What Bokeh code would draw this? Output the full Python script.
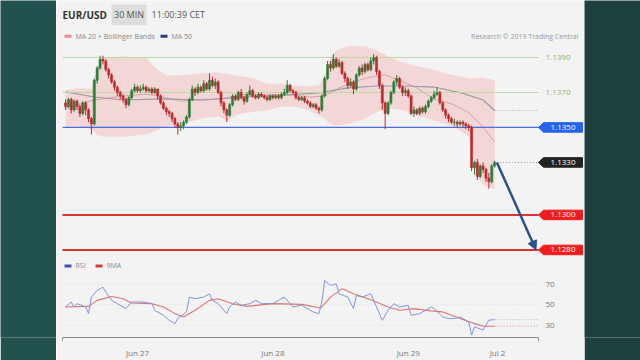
from bokeh.plotting import figure
from bokeh.layouts import row
from bokeh.models import Range1d, FixedTicker, Arrow, NormalHead
from bokeh.embed import file_html
from bokeh.resources import INLINE
from bokeh.core.properties import value

# ---------------- data (EUR/USD 30 min) ----------------
first_open = 1.1364
close = [1.1362,1.1366,1.1360,1.1365,1.1362,1.1358,1.1364,1.1360,1.1355,1.1352,
         1.1377,1.1384,1.1389,1.1388,1.1383,1.1380,1.1376,1.1373,1.1370,1.1368,
         1.1366,1.1363,1.1367,1.1371,1.1373,1.1371,1.1372,1.1373,1.1371,1.1372,
         1.1370,1.1372,1.1368,1.1364,1.1361,1.1359,1.1358,1.1355,1.1352,1.1350,
         1.1351,1.1353,1.1356,1.1366,1.1372,1.1370,1.1373,1.1371,1.1375,1.1372,
         1.1377,1.1374,1.1376,1.1370,1.1364,1.1360,1.1357,1.1363,1.1368,1.1366,
         1.1370,1.1367,1.1365,1.1369,1.1371,1.1368,1.1367,1.1369,1.1368,1.1367,
         1.1366,1.1368,1.1367,1.1368,1.1367,1.1369,1.1370,1.1374,1.1371,1.1370,
         1.1367,1.1366,1.1367,1.1365,1.1364,1.1362,1.1363,1.1361,1.1360,1.1368,
         1.1378,1.1386,1.1384,1.1389,1.1385,1.1387,1.1381,1.1378,1.1374,1.1376,
         1.1372,1.1380,1.1384,1.1382,1.1386,1.1383,1.1388,1.1390,1.1382,1.1374,
         1.1364,1.1358,1.1364,1.1370,1.1376,1.1378,1.1373,1.1370,1.1371,1.1368,
         1.1358,1.1360,1.1358,1.1361,1.1359,1.1362,1.1365,1.1367,1.1369,1.1370,
         1.1364,1.1360,1.1357,1.1355,1.1353,1.1353,1.1352,1.1353,1.1352,1.1351,
         1.1350,1.1327,1.1330,1.1322,1.1328,1.1326,1.1321,1.1319,1.1328,1.1330]
high = [1.1366,1.1367,1.1367,1.1366,1.1366,1.1363,1.1365,1.1365,1.1361,1.1356,
        1.1378,1.1385,1.1391,1.1391,1.1389,1.1384,1.1381,1.1377,1.1374,1.1371,
        1.1369,1.1367,1.1368,1.1372,1.1375,1.1374,1.1374,1.1375,1.1374,1.1373,
        1.1373,1.1373,1.1372,1.1369,1.1365,1.1362,1.1360,1.1359,1.1356,1.1353,
        1.1353,1.1354,1.1357,1.1367,1.1374,1.1373,1.1375,1.1374,1.1377,1.1376,
        1.1381,1.1379,1.1378,1.1377,1.1371,1.1365,1.1361,1.1364,1.1369,1.1369,
        1.1371,1.1372,1.1368,1.1370,1.1374,1.1372,1.1369,1.1370,1.1370,1.1369,
        1.1368,1.1369,1.1369,1.1369,1.1369,1.1370,1.1372,1.1377,1.1375,1.1372,
        1.1371,1.1368,1.1368,1.1368,1.1366,1.1365,1.1364,1.1364,1.1362,1.1369,
        1.1379,1.1388,1.1388,1.1392,1.1390,1.1389,1.1388,1.1382,1.1379,1.1378,
        1.1377,1.1381,1.1385,1.1386,1.1387,1.1387,1.1390,1.1392,1.1391,1.1383,
        1.1375,1.1365,1.1365,1.1371,1.1377,1.1380,1.1379,1.1374,1.1373,1.1372,
        1.1369,1.1362,1.1361,1.1362,1.1362,1.1363,1.1366,1.1368,1.1371,1.1373,
        1.1371,1.1365,1.1361,1.1358,1.1356,1.1355,1.1354,1.1354,1.1354,1.1353,
        1.1352,1.1351,1.1331,1.1332,1.1329,1.1330,1.1327,1.1324,1.1329,1.1331]
low = [1.1360,1.1361,1.1358,1.1359,1.1360,1.1356,1.1357,1.1357,1.1353,1.1346,
       1.1351,1.1375,1.1383,1.1386,1.1382,1.1378,1.1375,1.1371,1.1368,1.1366,
       1.1364,1.1361,1.1362,1.1366,1.1370,1.1370,1.1370,1.1371,1.1370,1.1370,
       1.1369,1.1369,1.1366,1.1363,1.1360,1.1357,1.1356,1.1353,1.1350,1.1346,
       1.1348,1.1349,1.1352,1.1355,1.1365,1.1368,1.1369,1.1370,1.1370,1.1371,
       1.1371,1.1373,1.1372,1.1369,1.1362,1.1358,1.1353,1.1356,1.1362,1.1365,
       1.1365,1.1366,1.1363,1.1364,1.1368,1.1367,1.1366,1.1366,1.1367,1.1366,
       1.1365,1.1365,1.1366,1.1366,1.1366,1.1366,1.1368,1.1369,1.1370,1.1369,
       1.1366,1.1365,1.1365,1.1364,1.1363,1.1361,1.1361,1.1360,1.1358,1.1359,
       1.1367,1.1377,1.1382,1.1383,1.1384,1.1384,1.1380,1.1376,1.1372,1.1373,
       1.1369,1.1371,1.1379,1.1380,1.1381,1.1382,1.1382,1.1386,1.1380,1.1372,
       1.1360,1.1349,1.1357,1.1363,1.1369,1.1374,1.1372,1.1368,1.1368,1.1367,
       1.1357,1.1356,1.1357,1.1357,1.1358,1.1358,1.1361,1.1364,1.1366,1.1368,
       1.1363,1.1359,1.1355,1.1353,1.1352,1.1351,1.1350,1.1351,1.1350,1.1349,
       1.1348,1.1325,1.1323,1.1320,1.1321,1.1324,1.1319,1.1315,1.1318,1.1327]

band_idx = [0,5,9,11,13,20,28,32,35,40,48,53,56,60,65,70,75,80,84,88,
            90,92,94,98,104,108,112,117,122,128,134,139,140,141,142,143,145,149]
band_upper = [1.13714,1.13726,1.13720,1.13840,1.13896,1.13907,1.13896,1.13828,1.13799,1.13799,
              1.13811,1.13816,1.13805,1.13794,1.13782,1.13750,1.13750,1.13740,1.13735,1.13740,
              1.13800,1.13900,1.13940,1.13964,1.13964,1.13941,1.13907,1.13873,1.13851,1.13828,
              1.13800,1.13785,1.13783,1.13780,1.13780,1.13782,1.13785,1.13770]
band_lower = [1.13504,1.13504,1.13490,1.13460,1.13447,1.13447,1.13459,1.13487,1.13504,1.13515,
              1.13555,1.13561,1.13540,1.13575,1.13589,1.13595,1.13620,1.13620,1.13600,1.13570,
              1.13550,1.13520,1.13510,1.13520,1.13550,1.13589,1.13610,1.13600,1.13570,1.13540,
              1.13510,1.13460,1.13450,1.13400,1.13300,1.13220,1.13170,1.13150]

ma20_idx = [0,10,20,28,35,40,48,55,62,70,78,85,90,95,100,105,111,117,122,128,134,140,145,149]
ma20 = [1.13612,1.13657,1.13680,1.13691,1.13670,1.13650,1.13660,1.13665,1.13688,1.13685,
        1.13686,1.13674,1.13680,1.13725,1.13760,1.13785,1.13800,1.13762,1.13726,1.13663,
        1.13635,1.13585,1.13502,1.13418]
ma50_idx = [0,10,20,34,48,62,77,88,98,108,118,128,138,145,149]
ma50 = [1.13703,1.13674,1.13657,1.13663,1.13657,1.13674,1.13686,1.13697,1.13726,1.13737,
        1.13737,1.13731,1.13695,1.13657,1.13597]

rsi_idx = [0,2,3,4,7,8,9,11,13,14,16,18,20,21,23,27,30,31,34,36,
           38,39,42,43,45,48,50,51,53,56,57,59,61,64,66,68,72,76,79,82,
           86,88,89,90,92,94,95,98,100,101,103,106,108,110,112,114,116,119,120,123,
           127,128,131,133,135,137,140,141,142,145,147,149]
rsi = [47.8,52.6,47.8,51,47.8,41.3,57.4,63.8,67,62.2,54.2,51,47.8,46.2,52.6,52.6,51,44.6,39.7,34.8,
       31.6,36.5,42.9,57.4,55.8,57.4,60.6,54.2,51,41.3,47.8,52.6,49.4,51,54.2,51,51,57.4,47.8,49.4,
       42.9,41.3,52.6,73.5,68.7,70.3,60.6,57.4,46.2,59,57.4,60.6,47.8,34.8,44.6,51,47.8,49.4,39.7,41.3,
       47.8,46.2,38.1,36.5,36.5,38.1,33.3,20.4,28.5,25.3,35,35.5]
sma_idx = [0,8,11,16,20,23,30,34,38,41,45,50,53,58,63,72,82,88,89,92,
           96,100,106,112,116,121,127,131,137,142,145,149]
sma9 = [47.8,48.4,54.2,58,55.8,51.6,51,47.8,41.3,38.1,44.6,54.2,55.8,51,48.4,51,50.3,47.1,47.8,57.4,
        65.4,60.6,54.8,47.8,44.6,46.2,44,43,36.5,31.6,29,29]

resistance_levels = [1.1390, 1.1370]
pivot_level = 1.1350
support_levels = [1.1300, 1.1280]
rsi_levels = [70, 50, 30]
day_ticks = [25, 72, 119, 150]
day_labels = ["Jun 27", "Jun 28", "Jun 29", "Jul 2"]

# ---------------- layout helpers (page pixels -> data) ----------------
FONT = value("Open Sans")
PANEL = "#f3f3f3"
def xi(px):  # page x pixel -> candle index coordinate
    return (px - 65) / 2.88
def yp(py):  # page y pixel -> price
    return 1.1390 - (py - 57.3) / 1.76 * 0.0001
def yr(py):  # page y pixel -> RSI value
    return 50 - (py - 306) / 1.035

n = len(close)
idx = list(range(n))
opens = [first_open] + close[:-1]
UP, DN = "#2a7f38", "#bd2a2e"
colors = [UP if c >= o else DN for o, c in zip(opens, close)]
tops = [max(o, c) for o, c in zip(opens, close)]
bots = [min(o, c) for o, c in zip(opens, close)]

p = figure(width=528, height=360, x_range=Range1d(xi(56), xi(584)),
           y_range=Range1d(yp(339), yp(0)), toolbar_location=None,
           output_backend="svg", y_axis_location=None, min_border=0,
           min_border_left=0, min_border_right=0, min_border_top=0, min_border_bottom=21,
           background_fill_color=PANEL, border_fill_color=PANEL, outline_line_color=None)
p.extra_y_ranges = {"rsi": Range1d(yr(339), yr(0))}
p.grid.visible = False

# header
p.quad(left=[xi(111)], right=[xi(146)], top=[yp(4)], bottom=[yp(25)], fill_color="#dddddd", line_color=None)
p.text(x=[xi(62)], y=[yp(14.5)], text=["EUR/USD"], text_font=FONT, text_font_size="10px",
       text_font_style="bold", text_color="#333333", text_baseline="middle")
p.text(x=[xi(128.5)], y=[yp(14.5)], text=["30 MIN"], text_font=FONT, text_font_size="9px",
       text_color="#555555", text_baseline="middle", text_align="center")
p.text(x=[xi(151)], y=[yp(14.5)], text=["11:00:39 CET"], text_font=FONT, text_font_size="9px",
       text_color="#555555", text_baseline="middle")
# legend row
p.segment(x0=[xi(64)], y0=[yp(36)], x1=[xi(71)], y1=[yp(36)], line_color="#f08a8a", line_width=3)
p.text(x=[xi(75)], y=[yp(36)], text=["MA 20 + Bollinger Bands"], text_font=FONT, text_font_size="7px",
       text_color="#888888", text_baseline="middle")
p.segment(x0=[xi(160)], y0=[yp(36)], x1=[xi(167)], y1=[yp(36)], line_color="#2c3e7a", line_width=3)
p.text(x=[xi(171)], y=[yp(36)], text=["MA 50"], text_font=FONT, text_font_size="7px",
       text_color="#888888", text_baseline="middle")
p.text(x=[xi(578)], y=[yp(36)], text=["Research \u00a9 2019 Trading Central"], text_font=FONT,
       text_font_size="7px", text_color="#999999", text_baseline="middle", text_align="right")

# bollinger band + moving averages
p.varea(x=band_idx, y1=band_lower, y2=band_upper, fill_color="#f4a9a9", fill_alpha=0.38)
p.line(ma20_idx, ma20, line_color="#dba0a0", line_width=1)
p.line(ma50_idx, ma50, line_color="#9c9aa8", line_width=1.2)

# levels
L0, L1 = xi(62), xi(538)
p.segment(x0=[L0]*2, y0=resistance_levels, x1=[L1]*2, y1=resistance_levels, line_color="#bcd9a3", line_width=1)
p.segment(x0=[L0], y0=[pivot_level], x1=[L1], y1=[pivot_level], line_color="#4a6ee0", line_width=1.2)
p.segment(x0=[L0]*2, y0=support_levels, x1=[L1]*2, y1=support_levels, line_color="#d93434", line_width=2)

# candles
p.segment(x0=idx, y0=low, x1=idx, y1=high, line_color=colors, line_width=1)
p.vbar(x=idx, width=0.72, top=tops, bottom=bots, fill_color=colors, line_color=colors, line_width=0.6)

# dotted continuation lines
p.segment(x0=[n - 1 + 0.8], y0=[close[-1]], x1=[L1], y1=[close[-1]], line_color="#999999", line_dash="1 2")
p.segment(x0=[ma50_idx[-1]], y0=[ma50[-1]], x1=[L1], y1=[ma50[-1]], line_color="#aaaaaa", line_dash="1 2")

# right-hand labels
for lv in resistance_levels:
    p.text(x=[xi(545)], y=[lv], text=[f"{lv:.4f}"], text_font=FONT, text_font_size="8px",
           text_color="#8db36b", text_baseline="middle")
h = yp(0) - yp(4.8)
tags = [(pivot_level, "#2563eb"), (close[-1], "#222222"), (support_levels[0], "#f01c1c"), (support_levels[1], "#f01c1c")]
for lv, col in tags:
    xs = [xi(538), xi(543), xi(582), xi(582), xi(543)]
    ys = [lv, lv + h, lv + h, lv - h, lv - h]
    p.patch(xs, ys, fill_color=col, line_color=col)
    p.text(x=[xi(562.5)], y=[lv], text=[f"{lv:.4f}"], text_font=FONT, text_font_size="8px",
           text_color="white", text_baseline="middle", text_align="center")

# target arrow
BLUE = "#2d4f8e"
p.add_layout(Arrow(end=NormalHead(size=9, fill_color=BLUE, line_color=BLUE),
                   x_start=n - 1 + 0.8, y_start=close[-1], x_end=xi(535.5), y_end=support_levels[1],
                   line_color=BLUE, line_width=2.5))

# RSI pane
p.segment(x0=[L0]*3, y0=rsi_levels, x1=[L1]*3, y1=rsi_levels, line_color="#dddddd",
          line_dash="1 2", y_range_name="rsi")
p.text(x=[xi(545)]*3, y=rsi_levels, text=[str(v) for v in rsi_levels], text_font=FONT,
       text_font_size="8px", text_color="#777777", text_baseline="middle", y_range_name="rsi")
p.segment(x0=[xi(64)], y0=[yr(267)], x1=[xi(71)], y1=[yr(267)], line_color="#3f56b0", line_width=3, y_range_name="rsi")
p.text(x=[xi(75)], y=[yr(267)], text=["RSI"], text_font=FONT, text_font_size="7px",
       text_color="#888888", text_baseline="middle", y_range_name="rsi")
p.segment(x0=[xi(95)], y0=[yr(267)], x1=[xi(102)], y1=[yr(267)], line_color="#d43a3a", line_width=3, y_range_name="rsi")
p.text(x=[xi(106)], y=[yr(267)], text=["9MA"], text_font=FONT, text_font_size="7px",
       text_color="#888888", text_baseline="middle", y_range_name="rsi")
p.line(sma_idx, sma9, line_color="#d9605c", line_width=1.1, line_alpha=0.85, y_range_name="rsi")
p.line(rsi_idx, rsi, line_color="#8194da", line_width=1, y_range_name="rsi")
p.segment(x0=[rsi_idx[-1]], y0=[rsi[-1]], x1=[L1], y1=[rsi[-1]], line_color="#aab3dd", line_dash="1 2", y_range_name="rsi")
p.segment(x0=[sma_idx[-1]], y0=[sma9[-1]], x1=[L1], y1=[sma9[-1]], line_color="#e0a0a0", line_dash="1 2", y_range_name="rsi")

# x axis
ax = p.xaxis[0]
ax.ticker = FixedTicker(ticks=day_ticks, minor_ticks=[xi(62), xi(538)])
ax.major_label_overrides = {t: lab for t, lab in zip(day_ticks, day_labels)}
ax.bounds = (xi(62), xi(538))
ax.axis_line_color = "#8a8a8a"
ax.major_tick_line_color = None
ax.minor_tick_line_color = "#8a8a8a"
ax.minor_tick_in = 0
ax.minor_tick_out = 3
ax.major_label_text_font = "Open Sans"
ax.major_label_text_font_size = "8px"
ax.major_label_text_color = "#777777"
ax.major_label_standoff = 3

def side(color):
    s = figure(width=56, height=360, toolbar_location=None, output_backend="svg", min_border=0,
               x_axis_location=None, y_axis_location=None, background_fill_color=color,
               border_fill_color=color, outline_line_color=None)
    s.grid.visible = False
    return s

layout = row(side("#21524e"), p, side("#1d3f3d"))
open("out.html", "w").write(file_html(layout, INLINE))
